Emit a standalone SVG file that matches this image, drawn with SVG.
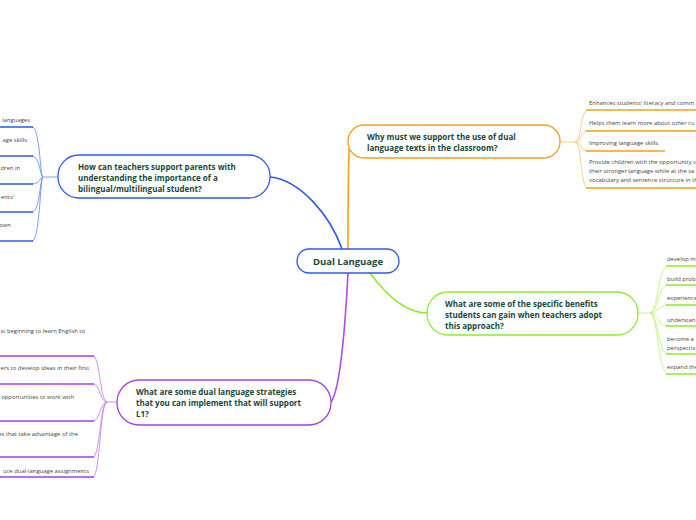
<svg xmlns="http://www.w3.org/2000/svg" width="696" height="520" viewBox="0 0 696 520">
<style>
.t{font-family:"Open Sans","Noto Sans",sans-serif;font-size:8px;font-weight:bold;fill:#17473a}
.c{font-family:"Open Sans","Noto Sans",sans-serif;font-size:5.9px;fill:#444}
.n{fill:#fff;stroke-width:1.3}
.l{fill:none;stroke-width:1.6}
.s{fill:none;stroke-width:0.8}
</style>
<rect width="696" height="520" fill="#fff"/>
<g id="connectors">
<path class="l" stroke="#2a5be6" d="M342,249 C330,215 300,180 270,177"/>
<path class="l" stroke="#f7a01a" d="M348,249 C348,200 348,150 350,141"/>
<path class="l" stroke="#8cec2c" d="M370,273 C390,300 410,313 427,313"/>
<path class="l" stroke="#b048ec" d="M348,273 C345,330 340,390 331,402"/>
<g stroke="#5b85f0">
<path class="s" d="M58,177 H43"/>
<path class="s" d="M43,177 C40,177 40,127 32,127 M43,177 C40,177 40,156 32,156 M43,177 C40,177 40,184 32,184 M43,177 C40,177 40,212 32,212 M43,177 C40,177 40,241 32,241"/>
</g>
<g stroke="#2a5be6"><path class="l" d="M0,127H33M0,156H33M0,184H33M0,212H33M0,241H33"/></g>
<g stroke="#c37af0">
<path class="s" d="M117,402 H107"/>
<path class="s" d="M107,402 C100,402 100,356 93,356 M107,402 C100,402 100,384 93,384 M107,402 C100,402 100,421 93,421 M107,402 C100,402 100,457 93,457 M107,402 C100,402 100,477 93,477"/>
</g>
<g stroke="#a53ee8"><path class="l" d="M0,356H94M0,384H94M0,421H94M0,457H94M0,477H94"/></g>
<g stroke="#fbc070">
<path class="s" d="M560,142 H575"/>
<path class="s" d="M575,142 C582,142 580,110 588,110 M575,142 C582,142 580,131 588,131 M575,142 C582,142 580,151 588,151 M575,142 C582,142 580,188 588,188"/>
</g>
<g stroke="#f7a01a"><path class="l" d="M586,110H696M586,131H696M586,151H665M586,188H696"/></g>
<g stroke="#b6f27a">
<path class="s" d="M638,313 H650"/>
<path class="s" d="M650,313 C658,313 658,266 668,266 M650,313 C658,313 658,285 668,285 M650,313 C658,313 658,305 668,305 M650,313 C658,313 658,326 668,326 M650,313 C658,313 658,354 668,354 M650,313 C658,313 658,374 668,374"/>
</g>
<g stroke="#8cec2c"><path class="l" d="M666,266H696M666,285H696M666,305H696M666,326H696M666,354H696M666,374H696"/></g>
</g>
<g id="center">
<rect class="n" x="297" y="249" width="102" height="24" rx="12" stroke="#2a5be6"/>
<text class="t" x="348" y="265" text-anchor="middle" style="font-size:9.5px">Dual Language</text>
</g>
<g id="parents">
<rect class="n" x="58" y="155" width="212" height="43" rx="21" stroke="#2a5be6"/>
<text class="t" x="78" y="170">How can teachers support parents with</text>
<text class="t" x="78" y="181">understanding the importance of a</text>
<text class="t" x="78" y="192">bilingual/multilingual student?</text>
<text class="c" x="30" y="122" text-anchor="end">languages</text>
<text class="c" x="27" y="142" text-anchor="end">age skills</text>
<text class="c" x="20" y="170" text-anchor="end">dren in</text>
<text class="c" x="14" y="199" text-anchor="end">ents'</text>
<text class="c" x="11" y="227" text-anchor="end">own</text>
</g>
<g id="strategies">
<rect class="n" x="117" y="380" width="214" height="45" rx="22" stroke="#a53ee8"/>
<text class="t" x="136" y="395">What are some dual language strategies</text>
<text class="t" x="136" y="406">that you can implement that will support</text>
<text class="t" x="136" y="417">L1?</text>
<text class="c" x="85" y="333" text-anchor="end">st beginning to learn English to</text>
<text class="c" x="89" y="370" text-anchor="end">ers to develop ideas in their first</text>
<text class="c" x="74" y="399" text-anchor="end">opportunities to work with</text>
<text class="c" x="78" y="436" text-anchor="end">es that take advantage of the</text>
<text class="c" x="89" y="473" text-anchor="end">uce dual-language assignments</text>
</g>
<g id="why">
<rect class="n" x="348" y="125" width="212" height="33" rx="16" stroke="#f7a01a"/>
<text class="t" x="367" y="140">Why must we support the use of dual</text>
<text class="t" x="367" y="151">language texts in the classroom?</text>
<text class="c" x="589" y="105">Enhances students' literacy and comm</text>
<text class="c" x="589" y="125">Helps them learn more about other cu</text>
<text class="c" x="589" y="145">Improving language skills</text>
<text class="c" x="589" y="164">Provide children with the opportunity to</text>
<text class="c" x="589" y="173">their stronger language while at the sa</text>
<text class="c" x="589" y="182">vocabulary and sentence structure in th</text>
</g>
<g id="benefits">
<rect class="n" x="427" y="292" width="211" height="43" rx="21" stroke="#8cec2c"/>
<text class="t" x="445" y="307">What are some of the specific benefits</text>
<text class="t" x="445" y="318">students can gain when teachers adopt</text>
<text class="t" x="445" y="329">this approach?</text>
<text class="c" x="667" y="261">develop m</text>
<text class="c" x="667" y="281">build probl</text>
<text class="c" x="667" y="300">experience</text>
<text class="c" x="667" y="322">understan</text>
<text class="c" x="667" y="341">become a</text>
<text class="c" x="667" y="350">perspectiv</text>
<text class="c" x="667" y="369">expand the</text>
</g>
</svg>
